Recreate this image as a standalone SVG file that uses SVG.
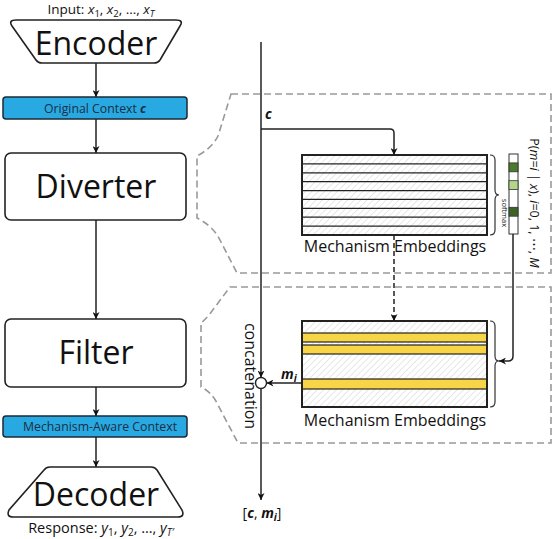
<svg xmlns="http://www.w3.org/2000/svg" width="554" height="539" viewBox="0 0 554 539">
<defs>
<style>
.stk{fill:none;stroke:#222;stroke-width:1.5}
.box{fill:#fff;stroke:#222;stroke-width:1.6}
.blue{fill:#29a9e1;stroke:#1d2a36;stroke-width:1.5}
.big{font-family:"Open Sans","Noto Sans",sans-serif;font-size:32px;fill:#111;text-anchor:middle}
.small{font-family:"Open Sans","Noto Sans",sans-serif;font-size:12.3px;fill:#1b2e45;text-anchor:middle}
.lbl{font-family:"Open Sans","Noto Sans",sans-serif;fill:#111}
.dash{fill:none;stroke:#999;stroke-width:1.6;stroke-dasharray:7,4}
.emb{fill:url(#hatch)}
.row{stroke:#222;stroke-width:1.2}
.yel{fill:#f8d447;stroke:#222;stroke-width:1.2}
.brace{fill:none;stroke:#333;stroke-width:1.2}
</style>
<pattern id="hatch" width="4.5" height="4.5" patternUnits="userSpaceOnUse" patternTransform="rotate(45)">
<rect width="4.5" height="4.5" fill="#fff"/>
<line x1="0" y1="0" x2="0" y2="4.5" stroke="#c4c4c4" stroke-width="0.8"/>
</pattern>
<marker id="arr" viewBox="0 0 10 10" refX="10" refY="5" markerWidth="7" markerHeight="7" orient="auto" markerUnits="userSpaceOnUse">
<path d="M0,0 L10,5 L0,10 L3,5 Z" fill="#111"/>
</marker>
</defs>
<rect width="554" height="539" fill="#fff"/>

<g id="diverter-detail-region">
<path class="dash" d="M231,94 L551,94 L551,273 L237,273 L220,240 Q213,226 197,218 L197,156 Q212,148 218,136 Z"/>
</g>
<g id="filter-detail-region">
<path class="dash" d="M230,287 L551,287 L551,443 L238,443 L218,405 Q212,392 201,387 L201,323 Q207,318 212,311 Z"/>
</g>

<g id="encoder">
<path class="box" d="M16,20 L176,20 Q184,20 180,26 L160,60 Q158,63 154,63 L42,63 Q38,63 36,60 L12,26 Q8,20 16,20 Z"/>
<text class="big" x="96" y="55" font-size="31">Encoder</text>
<text class="lbl" x="101" y="14" font-size="13.5" text-anchor="middle">Input: <tspan font-style="italic">x</tspan><tspan font-size="9.5" dy="2.5">1</tspan><tspan dy="-2.5">, </tspan><tspan font-style="italic">x</tspan><tspan font-size="9.5" dy="2.5">2</tspan><tspan dy="-2.5">, …, </tspan><tspan font-style="italic">x</tspan><tspan font-size="9.5" dy="2.5" font-style="italic">T</tspan></text>
</g>

<g id="original-context">
<rect class="blue" x="3" y="97" width="184" height="22" rx="3"/>
<text class="small" x="95" y="112.5">Original Context <tspan font-weight="bold" font-style="italic">c</tspan></text>
</g>

<g id="diverter">
<rect class="box" x="5" y="153" width="181" height="67" rx="6"/>
<text class="big" x="96" y="198" font-size="33">Diverter</text>
</g>

<g id="filter">
<rect class="box" x="5" y="319" width="181" height="68" rx="6"/>
<text class="big" x="96" y="364" font-size="33">Filter</text>
</g>

<g id="mechanism-aware-context">
<rect class="blue" x="3" y="416" width="184" height="21" rx="3"/>
<text class="small" x="100" y="431">Mechanism-Aware Context</text>
</g>

<g id="decoder">
<path class="box" d="M50,467 L151,467 Q155,467 157,470 L182,510 Q185,517 178,517 L13,517 Q6,517 9,510 L44,470 Q46,467 50,467 Z"/>
<text class="big" x="96" y="506" font-size="31">Decoder</text>
<text class="lbl" x="101" y="533" font-size="14.5" text-anchor="middle">Response: <tspan font-style="italic">y</tspan><tspan font-size="10" dy="3">1</tspan><tspan dy="-3">, </tspan><tspan font-style="italic">y</tspan><tspan font-size="10" dy="3">2</tspan><tspan dy="-3">, …, </tspan><tspan font-style="italic">y</tspan><tspan font-size="10" dy="3" font-style="italic">T′</tspan></text>
</g>

<g id="embeddings-diverter">
<rect class="emb" x="302" y="155" width="185" height="80"/>
<g class="row">
<line x1="302" y1="163.9" x2="487" y2="163.9"/>
<line x1="302" y1="172.8" x2="487" y2="172.8"/>
<line x1="302" y1="181.7" x2="487" y2="181.7"/>
<line x1="302" y1="190.6" x2="487" y2="190.6"/>
<line x1="302" y1="199.4" x2="487" y2="199.4"/>
<line x1="302" y1="208.3" x2="487" y2="208.3"/>
<line x1="302" y1="217.2" x2="487" y2="217.2"/>
<line x1="302" y1="226.1" x2="487" y2="226.1"/>
</g>
<rect x="302" y="155" width="185" height="80" fill="none" stroke="#222" stroke-width="2"/>
<path class="brace" d="M490,155 Q495,155 495,160 L495,190 Q495,195 499,195 Q495,195 495,200 L495,230 Q495,235 490,235"/>
<text class="lbl" x="502" y="213" font-size="7.5" fill="#444" text-anchor="middle" transform="rotate(90 502 213)">softmax</text>
<text class="lbl" x="395" y="252" font-size="16" text-anchor="middle">Mechanism Embeddings</text>
</g>

<g id="probability-vector">
<rect x="509" y="154" width="9" height="80" fill="#fff" stroke="#333" stroke-width="1"/>
<rect x="509" y="162.9" width="9" height="8.9" fill="#4d7a2b" stroke="#333" stroke-width="0.8"/>
<rect x="509" y="180.7" width="9" height="8.9" fill="#b3d68a" stroke="#333" stroke-width="0.8"/>
<rect x="509" y="207.3" width="9" height="8.9" fill="#3d6426" stroke="#333" stroke-width="0.8"/>
<text class="lbl" x="530" y="203" font-size="12.5" text-anchor="middle" transform="rotate(90 530 203)">P(<tspan font-style="italic">m</tspan>=<tspan font-style="italic">i</tspan> | <tspan font-style="italic">x</tspan>), <tspan font-style="italic">i</tspan>=0, 1, ⋯, <tspan font-style="italic">M</tspan></text>
</g>

<g id="embeddings-filter">
<rect class="emb" x="302" y="321" width="185" height="86"/>
<rect class="yel" x="302" y="333" width="185" height="9"/>
<rect class="yel" x="302" y="345" width="185" height="9"/>
<rect class="yel" x="302" y="379" width="185" height="10"/>
<rect x="302" y="321" width="185" height="86" fill="none" stroke="#222" stroke-width="2"/>
<path class="brace" d="M490,321 Q495,321 495,326 L495,356 Q495,361 499,361 Q495,361 495,366 L495,402 Q495,407 490,407"/>
<text class="lbl" x="395" y="426" font-size="16" text-anchor="middle">Mechanism Embeddings</text>
</g>

<g id="concatenation">
<circle cx="261" cy="383" r="5.5" fill="#fff" stroke="#222" stroke-width="1.4"/>
<text class="lbl" x="245" y="376" font-size="16" text-anchor="middle" transform="rotate(90 245 376)">concatenation</text>
</g>

<g id="connectors">
<line class="stk" x1="96" y1="63" x2="96" y2="97" marker-end="url(#arr)"/>
<line class="stk" x1="96" y1="119" x2="96" y2="153" marker-end="url(#arr)"/>
<line class="stk" x1="96" y1="220" x2="96" y2="319" marker-end="url(#arr)"/>
<line class="stk" x1="96" y1="387" x2="96" y2="416" marker-end="url(#arr)"/>
<line class="stk" x1="96" y1="437" x2="96" y2="467" marker-end="url(#arr)"/>
<line class="stk" x1="261" y1="42" x2="261" y2="377.5" stroke-width="1.8" marker-end="url(#arr)"/>
<line class="stk" x1="261" y1="388.5" x2="261" y2="500" marker-end="url(#arr)"/>
<path class="stk" d="M261,129 L390,129 Q394,129 394,133 L394,155" marker-end="url(#arr)"/>
<line class="stk" x1="394" y1="235" x2="394" y2="321" stroke-dasharray="5,3" marker-end="url(#arr)"/>
<path class="stk" d="M513,234 L513,356 Q513,361 508,361 L499,361" marker-end="url(#arr)"/>
<line class="stk" x1="302" y1="383" x2="266.5" y2="383" marker-end="url(#arr)"/>
<text class="lbl" x="265" y="119" font-size="14" font-weight="bold" font-style="italic">c</text>
<text class="lbl" x="281" y="379" font-size="14" font-weight="bold" font-style="italic">m<tspan font-size="10" dy="3">i</tspan></text>
<text class="lbl" x="262" y="518" font-size="14" text-anchor="middle">[<tspan font-weight="bold" font-style="italic">c</tspan>, <tspan font-weight="bold" font-style="italic">m</tspan><tspan font-weight="bold" font-style="italic" font-size="10" dy="3">i</tspan><tspan dy="-3">]</tspan></text>
</g>
</svg>
